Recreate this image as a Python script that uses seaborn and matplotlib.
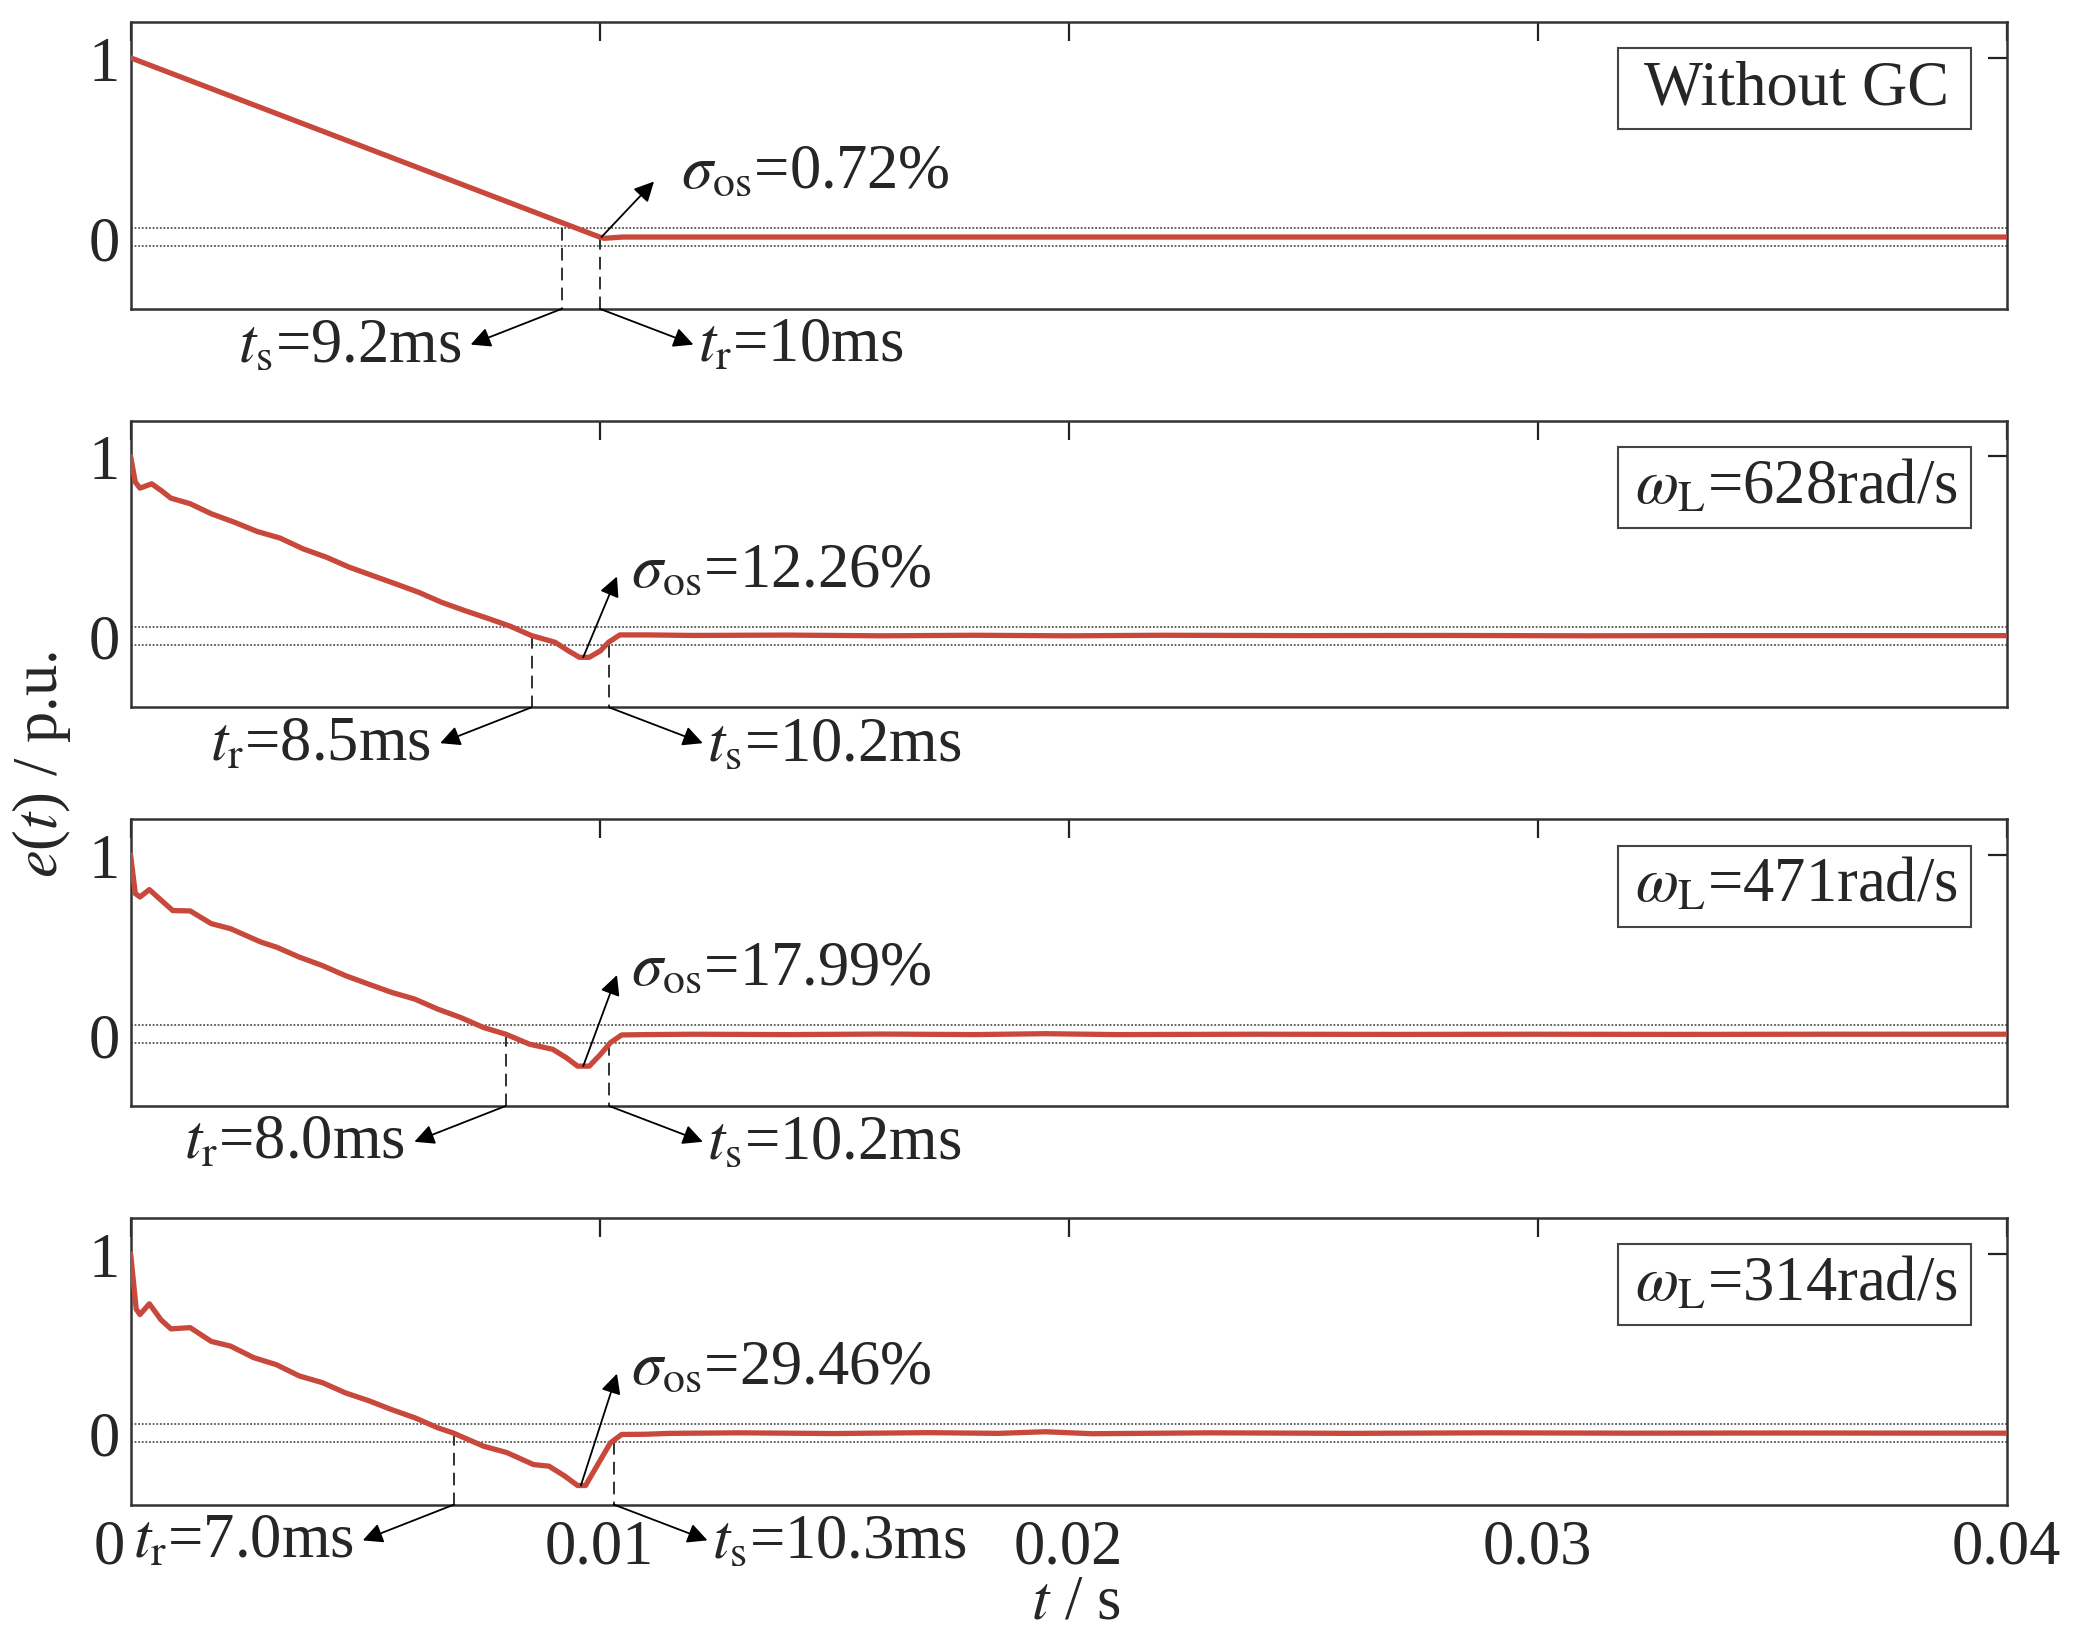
import matplotlib
matplotlib.use('Agg')
import matplotlib.pyplot as plt
from matplotlib.patches import Rectangle
import seaborn as sns

# axis ticks
x_ticks = [0, 0.01, 0.02, 0.03, 0.04]
x_tick_labels = ['0', '0.01', '0.02', '0.03', '0.04']
y_ticks = [0, 1]
y_tick_labels = ['0', '1']
band = 0.05

# error curves
t_nogc = [0.0, 0.0092, 0.0100, 0.0101, 0.0105, 0.0400]
e_nogc = [1.0, 0.080, 0.000, -0.007, 0.000, 0.000]

t_628 = [0.0, 0.0001, 0.0002, 0.00045, 0.00065, 0.00086, 0.00127, 0.00172, 0.00221,
         0.0027, 0.00319, 0.00368, 0.00417, 0.00466, 0.00516, 0.00565, 0.00614, 0.00663,
         0.00712, 0.00761, 0.0081, 0.00855, 0.00905, 0.00933, 0.00957, 0.00978, 0.01002,
         0.01019, 0.01043, 0.011, 0.012, 0.014, 0.016, 0.018, 0.020, 0.022, 0.025, 0.028,
         0.031, 0.034, 0.037, 0.040]
e_628 = [1.0, 0.857, 0.823, 0.847, 0.810, 0.767, 0.736, 0.680, 0.633,
         0.581, 0.544, 0.484, 0.438, 0.382, 0.335, 0.289, 0.242, 0.186,
         0.140, 0.097, 0.052, 0.000, -0.037, -0.084, -0.121, -0.121, -0.084,
         -0.037, 0.004, 0.004, 0.001, 0.003, -0.001, 0.002, -0.001, 0.002, 0.000, 0.001,
         -0.001, 0.000, 0.000, 0.000]

t_471 = [0.0, 0.0001, 0.0002, 0.0004, 0.00065, 0.0009, 0.00127, 0.00172, 0.00213,
         0.00278, 0.00311, 0.0036, 0.00409, 0.00458, 0.00507, 0.00556, 0.00606, 0.00655,
         0.00704, 0.00753, 0.0080, 0.00851, 0.0090, 0.00929, 0.00953, 0.00978, 0.01002,
         0.01023, 0.01047, 0.011, 0.012, 0.014, 0.016, 0.018, 0.0195, 0.021, 0.024, 0.027,
         0.030, 0.033, 0.036, 0.040]
e_471 = [1.0, 0.785, 0.766, 0.807, 0.748, 0.690, 0.688, 0.617, 0.589,
         0.514, 0.486, 0.430, 0.383, 0.327, 0.280, 0.234, 0.196, 0.140,
         0.093, 0.037, 0.000, -0.056, -0.084, -0.131, -0.178, -0.178, -0.112,
         -0.047, -0.004, -0.002, 0.000, -0.002, 0.001, -0.002, 0.003, -0.002, 0.000, -0.001,
         0.000, -0.001, 0.000, 0.000]

t_314 = [0.0, 0.00012, 0.0002, 0.0004, 0.00065, 0.00086, 0.00127, 0.00172, 0.00213,
         0.00262, 0.00311, 0.0036, 0.00409, 0.00458, 0.00507, 0.00556, 0.00606, 0.00655,
         0.00687, 0.00753, 0.00802, 0.00859, 0.00892, 0.00925, 0.00953, 0.0097, 0.00998,
         0.01023, 0.01047, 0.01097, 0.0115, 0.013, 0.015, 0.017, 0.0185, 0.0195, 0.0205,
         0.023, 0.026, 0.029, 0.032, 0.035, 0.040]
e_314 = [1.0, 0.690, 0.660, 0.720, 0.630, 0.580, 0.587, 0.510, 0.484,
         0.420, 0.380, 0.317, 0.280, 0.223, 0.180, 0.130, 0.084, 0.028,
         0.000, -0.075, -0.110, -0.177, -0.186, -0.240, -0.294, -0.294, -0.168,
         -0.056, -0.009, -0.008, -0.003, 0.000, -0.004, 0.001, -0.003, 0.006, -0.005,
         0.000, -0.003, 0.000, -0.002, -0.001, -0.002]

panel_t = [t_nogc, t_628, t_471, t_314]
panel_e = [e_nogc, e_628, e_471, e_314]
panel_names = ['Without GC', r'$\omega_{\rm L}$=628rad/s',
               r'$\omega_{\rm L}$=471rad/s', r'$\omega_{\rm L}$=314rad/s']
sigma_labels = [r'$\sigma_{\rm os}$=0.72%', r'$\sigma_{\rm os}$=12.26%',
                r'$\sigma_{\rm os}$=17.99%', r'$\sigma_{\rm os}$=29.46%']
left_labels = [r'$t_{\rm s}$=9.2ms', r'$t_{\rm r}$=8.5ms',
               r'$t_{\rm r}$=8.0ms', r'$t_{\rm r}$=7.0ms']
right_labels = [r'$t_{\rm r}$=10ms', r'$t_{\rm s}$=10.2ms',
                r'$t_{\rm s}$=10.2ms', r'$t_{\rm s}$=10.3ms']
# marked instants (s) and the level where the dashed marker starts
left_t = [0.0092, 0.00855, 0.0080, 0.0069]
left_e = [0.05, 0.0, 0.0, 0.0]
right_t = [0.0100, 0.0102, 0.0102, 0.0103]
right_e = [0.0, -0.05, -0.05, -0.05]
# overshoot peaks
peak_t = [0.01004, 0.00965, 0.00965, 0.0096]
peak_e = [0.0, -0.121, -0.178, -0.294]

sns.set_style('white')
plt.rcParams['font.family'] = ['Liberation Serif', 'DejaVu Serif']
plt.rcParams['mathtext.fontset'] = 'stix'
plt.rcParams['font.size'] = 45

red = '#c8483c'
fs = 45
ylim = (-0.4, 1.2)

fig, axes = plt.subplots(4, 1, figsize=(20.73, 16.40), dpi=100)
fig.subplots_adjust(left=0.063, right=0.968, top=0.986, bottom=0.082, hspace=0.39)

for i, ax in enumerate(axes):
    # tolerance band
    ax.axhline(band, color='#555555', lw=1.3, ls=(0, (1, 1)), zorder=1)
    ax.axhline(-band, color='#555555', lw=1.3, ls=(0, (1, 1)), zorder=1)

    sns.lineplot(x=panel_t[i], y=panel_e[i], ax=ax, color=red, lw=3.8, zorder=3)

    ax.set_xlim(0, 0.04)
    ax.set_ylim(*ylim)
    ax.set_xticks(x_ticks)
    ax.set_yticks(y_ticks)
    ax.set_yticklabels(y_tick_labels)
    if i == len(axes) - 1:
        # the "0" sits a little left of the axis corner, as in the original
        ax.set_xticklabels([''] + x_tick_labels[1:])
        ax.annotate(x_tick_labels[0], xy=(0, 0), xycoords='axes fraction',
                    xytext=(-4, -10), textcoords='offset points',
                    ha='right', va='top', fontsize=fs)
    else:
        ax.set_xticklabels([])
    ax.tick_params(direction='in', length=14, width=1.6, top=True, right=True,
                   labelsize=fs, color='#222222')
    ax.tick_params(axis='x', pad=10)
    ax.tick_params(axis='y', pad=8)
    for sp in ax.spines.values():
        sp.set_linewidth(1.8)
        sp.set_color('#333333')
    ax.set_xlabel('')
    ax.set_ylabel('')

    # dashed markers down to the bottom edge
    ax.plot([left_t[i], left_t[i]], [left_e[i], ylim[0]], color='#222222', lw=1.3,
            ls=(0, (7, 4)), zorder=2)
    ax.plot([right_t[i], right_t[i]], [right_e[i], ylim[0]], color='#222222', lw=1.3,
            ls=(0, (7, 4)), zorder=2)

    arrow = dict(arrowstyle='-|>', color='black', lw=1.3, mutation_scale=30,
                 shrinkA=0, shrinkB=0)
    # left label
    ax.annotate('', xy=(left_t[i] - 0.00195, -0.60), xytext=(left_t[i], ylim[0]),
                arrowprops=arrow, annotation_clip=False)
    ax.text(left_t[i] - 0.00215, -0.69, left_labels[i], ha='right', va='baseline',
            fontsize=fs, clip_on=False)
    # right label
    ax.annotate('', xy=(right_t[i] + 0.002, -0.60), xytext=(right_t[i], ylim[0]),
                arrowprops=arrow, annotation_clip=False)
    ax.text(right_t[i] + 0.0021, -0.69, right_labels[i], ha='left', va='baseline',
            fontsize=fs, clip_on=False)

    # overshoot label
    if i == 0:
        head = (0.01116, 0.31)
        tx = 0.01173
    else:
        head = (0.01037, 0.33)
        tx = 0.01066
    ax.annotate('', xy=head, xytext=(peak_t[i], peak_e[i]), arrowprops=arrow)
    ax.text(tx, 0.28, sigma_labels[i], ha='left', va='baseline', fontsize=fs)

    # case label box
    ax.add_patch(Rectangle((0.793, 0.625), 0.188, 0.283, transform=ax.transAxes,
                           fc='white', ec='#444444', lw=1.5, zorder=5))
    ax.text(0.888, 0.767, panel_names[i], transform=ax.transAxes, ha='center',
            va='center', fontsize=fs, zorder=6)

fig.text(0.020, 0.534, r'$e$($t$) / p.u.', rotation=90, ha='center', va='center',
         fontsize=fs)
fig.text(0.519, 0.022, r'$t$ / s', ha='center', va='center', fontsize=fs)

fig.savefig('out.png', dpi=100)
